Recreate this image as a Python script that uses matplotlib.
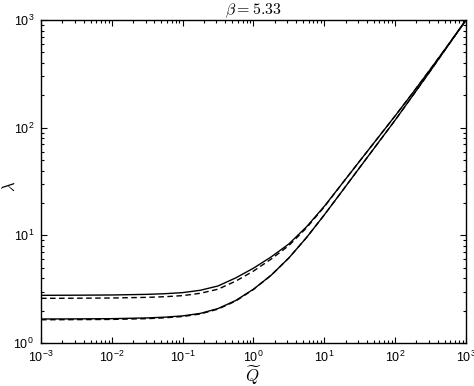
import math
import matplotlib
matplotlib.use("Agg")
import matplotlib.pyplot as plt
from matplotlib.ticker import LogLocator, FuncFormatter, NullFormatter

plt.rcParams['mathtext.fontset'] = 'custom'
plt.rcParams['mathtext.rm'] = 'Liberation Sans'
plt.rcParams['mathtext.it'] = 'Liberation Sans:italic'
plt.rcParams['font.family'] = ['Liberation Sans', 'DejaVu Sans']

Q = [0.001, 0.00316, 0.01, 0.0316, 0.0562, 0.1, 0.178, 0.316, 0.562, 1,
     1.78, 3.16, 5.62, 10, 17.8, 31.6, 56.2, 100, 178, 316, 562, 1000]
upper_solid = [2.773, 2.780, 2.793, 2.831, 2.871, 2.938, 3.090, 3.388, 4.027, 4.955,
               6.310, 8.318, 12.02, 18.62, 30.20, 48.98, 79.43, 128.8, 211.3, 350.8, 588.8, 1000]
upper_dashed = [2.600, 2.606, 2.618, 2.655, 2.692, 2.754, 2.897, 3.162, 3.758, 4.656,
                6.026, 8.035, 11.75, 18.41, 30.20, 48.98, 79.43, 128.8, 211.3, 350.8, 588.8, 1000]
lower_solid = [1.671, 1.675, 1.683, 1.710, 1.738, 1.786, 1.884, 2.089, 2.483, 3.162,
               4.266, 6.166, 9.550, 15.49, 25.70, 42.66, 70.79, 117.5, 199.5, 338.8, 582.1, 1000]
lower_dashed = [1.644, 1.648, 1.656, 1.683, 1.714, 1.762, 1.862, 2.065, 2.455, 3.141,
                4.266, 6.166, 9.550, 15.49, 25.70, 42.66, 70.79, 117.5, 199.5, 338.8, 582.1, 1000]

fig = plt.figure(figsize=(4.74, 3.86), dpi=100)
ax = fig.add_axes([0.0865, 0.1114, 0.8965, 0.8366])

dash = (0, (4, 2.5))
ax.plot(Q, upper_solid, color='black', lw=1.0, ls='-')
ax.plot(Q, upper_dashed, color='black', lw=1.0, ls=dash)
ax.plot(Q, lower_solid, color='black', lw=1.0, ls='-')
ax.plot(Q, lower_dashed, color='black', lw=1.0, ls=dash)

ax.set_xscale('log')
ax.set_yscale('log')
ax.set_xlim(1e-3, 1e3)
ax.set_ylim(1e0, 1e3)

ax.xaxis.set_major_locator(LogLocator(base=10, numticks=10))
ax.yaxis.set_major_locator(LogLocator(base=10, numticks=10))
ax.xaxis.set_minor_locator(LogLocator(base=10, subs=range(2, 10), numticks=100))
ax.yaxis.set_minor_locator(LogLocator(base=10, subs=range(2, 10), numticks=100))
ax.xaxis.set_minor_formatter(NullFormatter())
ax.yaxis.set_minor_formatter(NullFormatter())

def fmt(v, pos):
    e = int(round(math.log10(v)))
    return r'$\mathregular{10^{%d}}$' % e

ax.xaxis.set_major_formatter(FuncFormatter(fmt))
ax.yaxis.set_major_formatter(FuncFormatter(fmt))

ax.tick_params(which='both', direction='in', top=True, right=True, labelsize=9, width=0.8)
ax.tick_params(which='major', length=4, pad=5)
ax.tick_params(which='minor', length=2)
for s in ax.spines.values():
    s.set_linewidth(1.0)

ax.set_title(r'$\beta = 5.33$', fontsize=11.5, pad=4, math_fontfamily='cm')
fig.text(253 / 474, 1 - 375 / 386, r'$\widetilde{Q}$', fontsize=12,
         ha='center', va='center', math_fontfamily='cm')
fig.text(9 / 474, 1 - 186 / 386, r'$\tilde{\lambda}$', fontsize=12, rotation=90,
         ha='center', va='center', math_fontfamily='cm')

fig.savefig('out.png', dpi=100)
